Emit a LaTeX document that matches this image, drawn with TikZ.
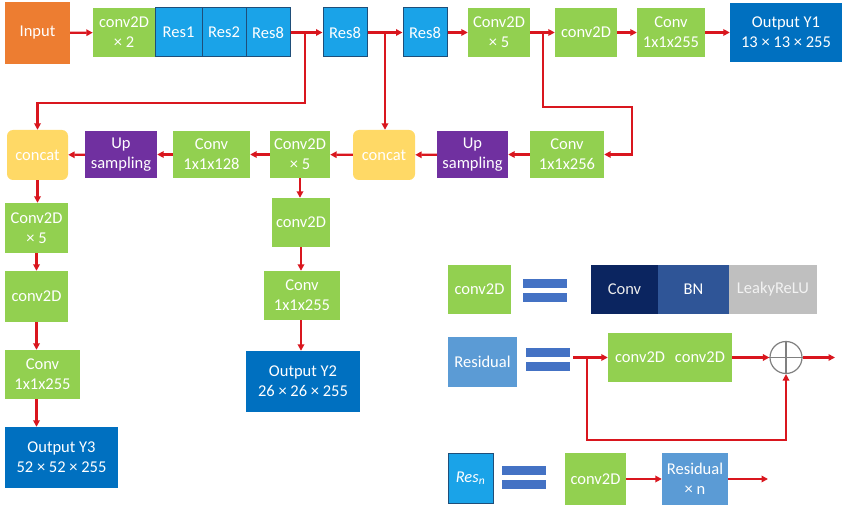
\documentclass[tikz,border=0pt]{standalone}
\usepackage{fontspec}
\setmainfont{Carlito}
\usetikzlibrary{arrows.meta}

\definecolor{inorange}{HTML}{ED7D31}
\definecolor{boxgreen}{HTML}{92D050}
\definecolor{resblue}{HTML}{1AA3E8}
\definecolor{resedge}{HTML}{1F4E79}
\definecolor{outblue}{HTML}{0070C0}
\definecolor{uppurple}{HTML}{7030A0}
\definecolor{catyellow}{HTML}{FFD966}
\definecolor{resid}{HTML}{5B9BD5}
\definecolor{arrred}{HTML}{D9161E}
\definecolor{eqblue}{HTML}{4472C4}
\definecolor{navy}{HTML}{0B2560}
\definecolor{bnblue}{HTML}{2F5597}
\definecolor{relugray}{HTML}{BFBFBF}

\tikzset{
  blk/.style={inner sep=0pt, align=center, text=white, font=\fontsize{16.5}{20}\selectfont},
  greenbox/.style={blk, fill=boxgreen, minimum height=49pt},
  resbox/.style={blk, fill=resblue, draw=resedge, line width=1pt, minimum width=44pt, minimum height=49pt},
  outbox/.style={blk, fill=outblue, minimum height=61pt},
  upbox/.style={blk, fill=uppurple, minimum width=72pt, minimum height=47pt},
  catbox/.style={blk, fill=catyellow, rounded corners=6pt, minimum width=61pt, minimum height=50pt},
  residbox/.style={blk, fill=resid, minimum height=50pt},
  flow/.style={draw=arrred, line width=2.2pt, -{Triangle[length=6.5pt,width=6.5pt]}},
  eqbars/.pic={
    \fill[eqblue] (-22,-11.5) rectangle (22,-2.5);
    \fill[eqblue] (-22,2.5) rectangle (22,11.5);
  }
}

\begin{document}
\begin{tikzpicture}[x=1pt,y=-1pt]
\useasboundingbox (0,0) rectangle (846,505);

% Backbone row
\node[blk, fill=inorange, minimum width=65pt, minimum height=62pt] (in) at (37.5,33) {Input};
\node[greenbox, minimum width=62pt] (c1) at (124,32.5) {conv2D\\× 2};
\node[resbox, minimum width=47pt] (r1) at (178.5,32.5) {Res1};
\node[resbox] (r2) at (224,32.5) {Res2};
\node[resbox] (r3) at (268,32.5) {Res8};
\node[resbox] (r4) at (345,32.5) {Res8};
\node[resbox] (r5) at (425,32.5) {Res8};
\node[greenbox, minimum width=62pt] (c5a) at (499,32.5) {Conv2D\\× 5};
\node[greenbox, minimum width=62pt] (c2a) at (586,32.5) {conv2D};
\node[greenbox, minimum width=68pt] (cv1) at (671,32.5) {Conv\\1x1x255};
\node[outbox, minimum width=112pt, minimum height=59pt] (y1) at (786,32.5) {Output Y1\\13 × 13 × 255};

\draw[flow] (in) -- (c1);
\draw[flow] (r3) -- (r4);
\draw[flow] (r4) -- (r5);
\draw[flow] (r5) -- (c5a);
\draw[flow] (c5a) -- (c2a);
\draw[flow] (c2a) -- (cv1);
\draw[flow] (cv1) -- (y1);

% Upsampling row
\node[catbox] (cat1) at (37.5,155) {concat};
\node[upbox] (up1) at (121,154.5) {Up\\sampling};
\node[greenbox, minimum width=77pt, minimum height=47pt] (cv128) at (211.5,154.5) {Conv\\1x1x128};
\node[greenbox, minimum width=60pt, minimum height=47pt] (c5b) at (300,154.5) {Conv2D\\× 5};
\node[catbox, minimum width=62pt] (cat2) at (384,155) {concat};
\node[upbox, minimum width=71pt] (up2) at (472.5,154.5) {Up\\sampling};
\node[greenbox, minimum width=74pt, minimum height=47pt] (cv256) at (567,154.5) {Conv\\1x1x256};

\draw[flow] (cv256) -- (up2);
\draw[flow] (up2) -- (cat2);
\draw[flow] (cat2) -- (c5b);
\draw[flow] (c5b) -- (cv128);
\draw[flow] (cv128) -- (up1);
\draw[flow] (up1) -- (cat1);

% Skip connections
\coordinate (b1) at (305,32.5);
\coordinate (k1) at (305,103);
\coordinate (b2) at (385,32.5);
\coordinate (b3) at (543,32.5);
\coordinate (k3) at (632,107);
\draw[flow] (b1) -- (k1) -| (cat1.north);
\draw[flow] (b2) -- (b2 |- cat2.north);
\draw[flow] (b3) |- (k3) |- (cv256.east);

% Left column
\node[greenbox, minimum width=63pt, minimum height=50pt] (c5c) at (36.5,228) {Conv2D\\× 5};
\node[greenbox, minimum width=63pt, minimum height=51pt] (c2c) at (36.5,296.5) {conv2D};
\node[greenbox, minimum width=75pt] (cv3) at (42.5,374.5) {Conv\\1x1x255};
\node[outbox, minimum width=113pt] (y3) at (61.5,457.5) {Output Y3\\52 × 52 × 255};

\draw[flow] (cat1.south) -- (cat1.south |- c5c.north);
\draw[flow] (c5c.south) -- (c5c.south |- c2c.north);
\draw[flow] (c2c.south) -- (c2c.south |- cv3.north);
\draw[flow] (c2c.south |- cv3.south) -- (c2c.south |- y3.north);

% Middle column
\node[greenbox, minimum width=58pt] (c2b) at (301,222.5) {conv2D};
\node[greenbox, minimum width=76pt] (cv2) at (302,295.5) {Conv\\1x1x255};
\node[outbox, minimum width=114pt] (y2) at (303,381.5) {Output Y2\\26 × 26 × 255};

\draw[flow] (c5b.south) -- (c5b.south |- c2b.north);
\draw[flow] (c2b.south) -- (c2b.south |- cv2.north);
\draw[flow] (c2b.south |- cv2.south) -- (c2b.south |- y2.north);

% Legend: conv2D
\node[greenbox, minimum width=63pt] (lc2) at (479.5,289.5) {conv2D};
\pic at (545,290.5) {eqbars};
\node[blk, fill=navy, text=white!85!gray, minimum width=67pt, minimum height=49pt] (lconv) at (624.5,289.5) {Conv};
\node[blk, fill=bnblue, minimum width=71pt, minimum height=49pt] (lbn) at (693.5,289.5) {BN};
\node[blk, fill=relugray, text=white!90!gray, minimum width=88pt, minimum height=49pt] (lrelu) at (773,289.5) {LeakyReLU};

% Legend: Residual
\node[residbox, minimum width=69pt] (lres) at (482.5,362) {Residual};
\pic at (547.5,359) {eqbars};
\node[greenbox, minimum width=124pt] (lpair) at (670,357.5) {conv2D\hspace{10pt}conv2D};
\node[draw=gray, line width=1.2pt, circle, minimum size=32pt, inner sep=0pt] (sum) at (786,357.5) {};
\draw[gray, line width=1.2pt] (sum.north) -- (sum.south) (sum.west) -- (sum.east);
\coordinate (s1) at (573,357.5);
\coordinate (s2) at (587,357.5);
\coordinate (k2) at (587,440);
\coordinate (e1) at (835,357.5);
\draw[flow] (s1) -- (lpair);
\draw[flow] (s2) -- (k2) -| (sum.south);
\draw[flow] (lpair) -- (sum);
\draw[flow] (sum) -- (e1);

% Legend: Res_n
\node[resbox, minimum width=45pt, minimum height=50pt] (lresn) at (470.5,478) {\textit{Res\textsubscript{n}}};
\pic at (524,477) {eqbars};
\node[greenbox, minimum width=61pt, minimum height=52pt] (lc2n) at (595.5,479) {conv2D};
\node[residbox, minimum width=66pt, minimum height=52pt] (lresx) at (695,479) {Residual\\× n};
\coordinate (e2) at (768,479);
\draw[flow] (lc2n) -- (lresx);
\draw[flow] (lresx) -- (e2);

\end{tikzpicture}
\end{document}
